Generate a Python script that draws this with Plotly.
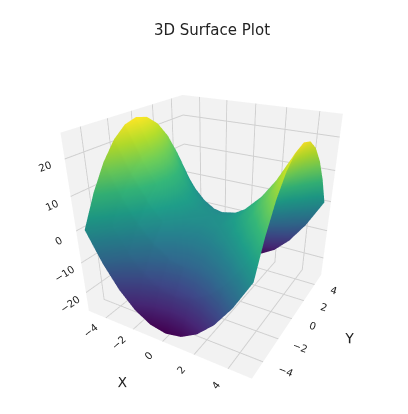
import plotly.graph_objects as go

x_vals = [-5, -4, -3, -2, -1, 0, 1, 2, 3, 4, 5]
y_vals = [-5, -4, -3, -2, -1, 0, 1, 2, 3, 4, 5]

# rows follow y_vals, columns follow x_vals
z_rows = [
    [0, -9, -16, -21, -24, -25, -24, -21, -16, -9, 0],
    [9, 0, -7, -12, -15, -16, -15, -12, -7, 0, 9],
    [16, 7, 0, -5, -8, -9, -8, -5, 0, 7, 16],
    [21, 12, 5, 0, -3, -4, -3, 0, 5, 12, 21],
    [24, 15, 8, 3, 0, -1, 0, 3, 8, 15, 24],
    [25, 16, 9, 4, 1, 0, 1, 4, 9, 16, 25],
    [24, 15, 8, 3, 0, -1, 0, 3, 8, 15, 24],
    [21, 12, 5, 0, -3, -4, -3, 0, 5, 12, 21],
    [16, 7, 0, -5, -8, -9, -8, -5, 0, 7, 16],
    [9, 0, -7, -12, -15, -16, -15, -12, -7, 0, 9],
    [0, -9, -16, -21, -24, -25, -24, -21, -16, -9, 0],
]

fig = go.Figure(go.Surface(
    x=x_vals, y=y_vals, z=z_rows,
    colorscale="Viridis", showscale=False,
    lighting=dict(ambient=0.95, diffuse=0.2, specular=0.0),
))

axis_style = dict(
    showbackground=True, backgroundcolor="#f2f2f2",
    gridcolor="#d0d0d0", zeroline=False,
    tickfont=dict(size=11, color="#222"),
)

fig.update_layout(
    width=408, height=414,
    paper_bgcolor="white",
    font=dict(family="DejaVu Sans", color="#222"),
    title=dict(text="3D Surface Plot", x=0.5, y=0.96, font=dict(size=15)),
    margin=dict(l=0, r=0, t=40, b=0),
    scene=dict(
        xaxis=dict(title="X", tickvals=[-4, -2, 0, 2, 4], **axis_style),
        yaxis=dict(title="Y", tickvals=[-4, -2, 0, 2, 4], **axis_style),
        zaxis=dict(title="", tickvals=[-20, -10, 0, 10, 20], **axis_style),
        aspectmode="cube",
        camera=dict(eye=dict(x=1.1, y=-1.9, z=1.05),
                    center=dict(x=0, y=0, z=-0.12)),
    ),
)

fig.write_html("out.html")
